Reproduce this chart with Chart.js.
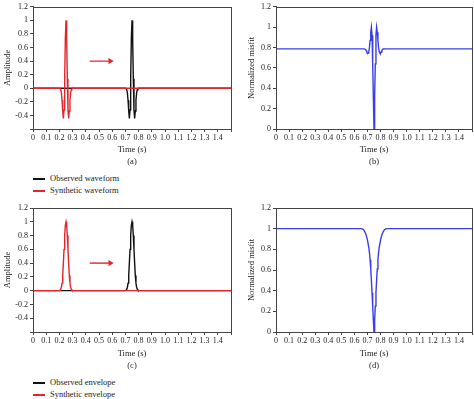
<!DOCTYPE html>
<html>
<head>
<meta charset="utf-8">
<script src="https://cdn.jsdelivr.net/npm/chart.js@4.4.1/dist/chart.umd.min.js"></script>
<style>
  body { margin: 0; background: #fff; width: 474px; height: 399px; overflow: hidden; position: relative; font-family: "Liberation Serif", serif; }
  canvas { position: absolute; }
  .legend { position: absolute; left: 33px; font-size: 8.5px; color: #222; }
  .legend div { height: 12px; line-height: 12px; white-space: nowrap; }
  .legend span { display: inline-block; width: 12px; height: 1.5px; vertical-align: middle; margin-right: 5px; }
</style>
</head>
<body>
<canvas id="chartA" width="237" height="168" style="left:0;top:0"></canvas>
<canvas id="chartB" width="237" height="168" style="left:237px;top:0"></canvas>
<canvas id="chartC" width="237" height="172" style="left:0;top:200px"></canvas>
<canvas id="chartD" width="237" height="172" style="left:237px;top:200px"></canvas>

<div class="legend" style="top:172px">
  <div><span style="background:#111"></span>Observed waveform</div>
  <div><span style="background:#e3262b"></span>Synthetic waveform</div>
</div>
<div class="legend" style="top:376px">
  <div><span style="background:#111"></span>Observed envelope</div>
  <div><span style="background:#e3262b"></span>Synthetic envelope</div>
</div>

<script>
// tick labels
const xTickValues = [0, 0.1, 0.2, 0.3, 0.4, 0.5, 0.6, 0.7, 0.8, 0.9, 1.0, 1.1, 1.2, 1.3, 1.4, 1.5];
const xTickLabels = ['0', '0.1', '0.2', '0.3', '0.4', '0.5', '0.6', '0.7', '0.8', '0.9', '1.0', '1.1', '1.2', '1.3', '1.4', ''];
const ampTickValues = [-0.6, -0.4, -0.2, 0, 0.2, 0.4, 0.6, 0.8, 1, 1.2];
const ampTickLabels = ['', '-0.4', '-0.2', '0', '0.2', '0.4', '0.6', '0.8', '1', '1.2'];
const misfitTickValues = [0, 0.2, 0.4, 0.6, 0.8, 1, 1.2];
const misfitTickLabels = ['0', '0.2', '0.4', '0.6', '0.8', '1', '1.2'];

// (a) waveforms
const obsWaveT = [0, 0.70, 0.705, 0.71, 0.715, 0.72, 0.725, 0.73, 0.735, 0.74, 0.745, 0.75, 0.755, 0.76, 0.765, 0.77, 0.775, 0.78, 0.785, 0.79, 0.795, 0.80, 1.5];
const obsWaveY = [0, 0, -0.004, -0.021, -0.069, -0.175, -0.334, -0.445, -0.319, 0.142, 0.727, 1, 0.727, 0.142, -0.319, -0.445, -0.334, -0.175, -0.069, -0.021, -0.004, 0, 0];
const synWaveT = [0, 0.20, 0.205, 0.21, 0.215, 0.22, 0.225, 0.23, 0.235, 0.24, 0.245, 0.25, 0.255, 0.26, 0.265, 0.27, 0.275, 0.28, 0.285, 0.29, 0.295, 0.30, 1.5];
const synWaveY = [0, 0, -0.004, -0.021, -0.069, -0.175, -0.334, -0.445, -0.319, 0.142, 0.727, 1, 0.727, 0.142, -0.319, -0.445, -0.334, -0.175, -0.069, -0.021, -0.004, 0, 0];

// red shift arrow (a) and (c)
const arrowT = [0.43, 0.585];
const arrowY = [0.4, 0.4];

// (b) waveform misfit
const misfitWaveT = [0, 0.67, 0.675, 0.68, 0.685, 0.69, 0.695, 0.70, 0.705, 0.71, 0.715, 0.72, 0.725, 0.73, 0.735, 0.74, 0.745, 0.75,
  0.755, 0.76, 0.765, 0.77, 0.775, 0.78, 0.785, 0.79, 0.795, 0.80, 0.805, 0.81, 0.815, 0.82, 0.825, 0.83, 1.5];
const misfitWaveY = [0.787, 0.787, 0.787, 0.785, 0.78, 0.77, 0.755, 0.743, 0.745, 0.76, 0.8, 0.87, 0.95, 1.0, 0.92, 0.64, 0.32, 0,
  0.32, 0.64, 0.92, 1.0, 0.95, 0.87, 0.8, 0.76, 0.745, 0.743, 0.755, 0.77, 0.78, 0.785, 0.787, 0.787, 0.787];

// (c) envelopes
const obsEnvT = [0, 0.70, 0.705, 0.71, 0.715, 0.72, 0.725, 0.73, 0.735, 0.74, 0.745, 0.75, 0.755, 0.76, 0.765, 0.77, 0.775, 0.78, 0.785, 0.79, 0.795, 0.80, 1.5];
const obsEnvY = [0, 0, 0.005, 0.02, 0.05, 0.11, 0.22, 0.4, 0.6, 0.8, 0.95, 1, 0.95, 0.8, 0.6, 0.4, 0.22, 0.11, 0.05, 0.02, 0.005, 0, 0];
const synEnvT = [0, 0.20, 0.205, 0.21, 0.215, 0.22, 0.225, 0.23, 0.235, 0.24, 0.245, 0.25, 0.255, 0.26, 0.265, 0.27, 0.275, 0.28, 0.285, 0.29, 0.295, 0.30, 1.5];
const synEnvY = [0, 0, 0.005, 0.02, 0.05, 0.11, 0.22, 0.4, 0.6, 0.8, 0.95, 1, 0.95, 0.8, 0.6, 0.4, 0.22, 0.11, 0.05, 0.02, 0.005, 0, 0];

// (d) envelope misfit
const misfitEnvT = [0, 0.65, 0.66, 0.67, 0.68, 0.69, 0.70, 0.71, 0.715, 0.72, 0.725, 0.73, 0.735, 0.74, 0.745, 0.75,
  0.755, 0.76, 0.765, 0.77, 0.775, 0.78, 0.785, 0.79, 0.80, 0.81, 0.82, 0.83, 0.84, 0.85, 1.5];
const misfitEnvY = [1, 1, 0.998, 0.99, 0.97, 0.94, 0.89, 0.82, 0.77, 0.70, 0.61, 0.50, 0.38, 0.25, 0.12, 0,
  0.12, 0.25, 0.38, 0.50, 0.61, 0.70, 0.77, 0.82, 0.89, 0.94, 0.97, 0.99, 0.998, 1, 1];

const RED = '#e3262b';
const BLACK = '#111';
const BLUE = '#3c3ce6';
const AXIS = '#444';
const TEXT = '#222';
const FONT = 'Liberation Serif';

const pts = (t, y) => t.map((v, i) => ({ x: v, y: y[i] }));

const line = (label, t, y, color, order) => ({
  label: label,
  data: pts(t, y),
  borderColor: color,
  borderWidth: 1.4,
  pointRadius: 0,
  tension: 0,
  order: order
});

const arrow = () => ({
  label: 'shift',
  data: pts(arrowT, arrowY),
  borderColor: RED,
  backgroundColor: RED,
  borderWidth: 1.4,
  pointRadius: [0, 3.5],
  pointBorderWidth: 0,
  pointStyle: 'triangle',
  pointRotation: 90,
  order: 0
});

const framePlugin = {
  id: 'frame',
  afterDraw(chart) {
    const a = chart.chartArea;
    const c = chart.ctx;
    c.save();
    c.strokeStyle = AXIS;
    c.lineWidth = 1;
    c.strokeRect(Math.round(a.left) + 0.5, Math.round(a.top) + 0.5, Math.round(a.right - a.left), Math.round(a.bottom - a.top));
    c.restore();
  }
};

function makePanel(id, datasets, yVals, yLabels, yTitle, yTitlePad, panel, pad, yWidth, xHeight, yMin) {
  new Chart(document.getElementById(id), {
    type: 'line',
    data: { datasets: datasets },
    plugins: [framePlugin],
    options: {
      responsive: false,
      animation: false,
      devicePixelRatio: 1,
      layout: { padding: pad },
      plugins: { legend: { display: false }, tooltip: { enabled: false } },
      scales: {
        x: {
          type: 'linear',
          min: 0,
          max: 1.5,
          afterBuildTicks: s => { s.ticks = xTickValues.map(v => ({ value: v })); },
          afterFit: s => { s.height = xHeight; },
          ticks: {
            autoSkip: false,
            maxRotation: 0,
            padding: 1,
            color: TEXT,
            font: { family: FONT, size: 8 },
            callback: (v, i) => xTickLabels[i]
          },
          grid: { drawOnChartArea: false, drawTicks: true, tickLength: 3, color: AXIS },
          border: { color: AXIS },
          title: {
            display: true,
            text: ['Time (s)', panel],
            color: TEXT,
            padding: { top: 0, bottom: 0 },
            font: { family: FONT, size: 8.5, lineHeight: 1.45 }
          }
        },
        y: {
          type: 'linear',
          min: yMin,
          max: 1.2,
          afterBuildTicks: s => { s.ticks = yVals.map(v => ({ value: v })); },
          afterFit: s => { s.width = yWidth; },
          ticks: {
            autoSkip: false,
            padding: 2,
            color: TEXT,
            font: { family: FONT, size: 8 },
            callback: (v, i) => yLabels[i]
          },
          grid: { drawOnChartArea: false, drawTicks: true, tickLength: 3, color: AXIS },
          border: { color: AXIS },
          title: {
            display: true,
            text: yTitle,
            color: TEXT,
            padding: { top: yTitlePad, bottom: 0 },
            font: { family: FONT, size: 8.5 }
          }
        }
      }
    }
  });
}

makePanel('chartA', [
  line('Observed waveform', obsWaveT, obsWaveY, BLACK, 2),
  line('Synthetic waveform', synWaveT, synWaveY, RED, 1),
  arrow()
], ampTickValues, ampTickLabels, 'Amplitude', 3, '(a)', { top: 5, right: 6, left: 0, bottom: 0 }, 33, 39, -0.6);

makePanel('chartB', [
  line('Normalized misfit', misfitWaveT, misfitWaveY, BLUE, 1)
], misfitTickValues, misfitTickLabels, 'Normalized misfit', 10, '(b)', { top: 5, right: 2, left: 0, bottom: 0 }, 39, 39, 0);

makePanel('chartC', [
  line('Observed envelope', obsEnvT, obsEnvY, BLACK, 2),
  line('Synthetic envelope', synEnvT, synEnvY, RED, 1),
  arrow()
], ampTickValues, ampTickLabels, 'Amplitude', 3, '(c)', { top: 8, right: 6, left: 0, bottom: 0 }, 33, 40, -0.6);

makePanel('chartD', [
  line('Normalized misfit', misfitEnvT, misfitEnvY, BLUE, 1)
], misfitTickValues, misfitTickLabels, 'Normalized misfit', 10, '(d)', { top: 8, right: 2, left: 0, bottom: 0 }, 39, 40, 0);
</script>
</body>
</html>
